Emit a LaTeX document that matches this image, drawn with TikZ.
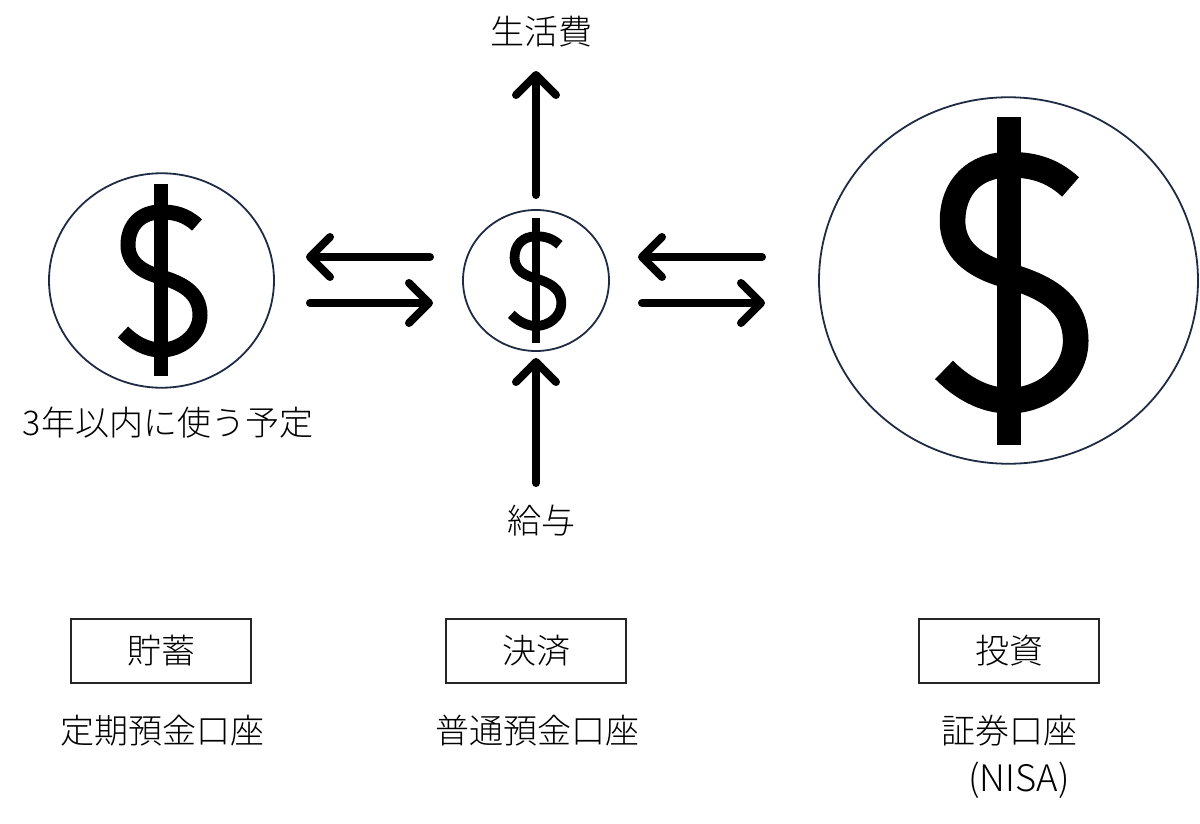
\documentclass[tikz,border=0pt]{standalone}
\usepackage{fontspec}
\setmainfont{Noto Sans CJK JP}[UprightFont=* Light]
\usetikzlibrary{positioning,arrows.meta,shapes.geometric}
\definecolor{ringBlue}{HTML}{1F2A44}
\tikzset{
  coin/.style={ellipse, draw=ringBlue, line width=1.8pt, inner sep=0pt},
  moveOp/.style={line width=8pt, line cap=round, -{Straight Barb[round,length=20pt,width=40pt]}},
  label/.style={font=\fontsize{34}{40}\selectfont, inner sep=0pt},
  kind/.style={rectangle, draw=black!85, line width=1.2pt, minimum width=180pt, minimum height=64pt, inner sep=0pt, font=\fontsize{34}{40}\selectfont}
}
\newcommand{\dollarSign}[3]{%
  \begin{scope}[shift={(#1,#2)}, scale=#3, y=-1pt]
    \fill (-6.75,-96) rectangle (6.75,96);
    \draw[line width=#3*15pt] (36,-55) .. controls (24,-66) and (12,-68) .. (0,-68)
      .. controls (-20,-68) and (-33,-55) .. (-33,-35)
      .. controls (-33,-15) and (-15,-7) .. (0,-3)
      .. controls (20,3) and (39,12) .. (39,35)
      .. controls (39,55) and (20,70) .. (0,70)
      .. controls (-15,70) and (-28,62) .. (-38,52);
  \end{scope}}
\begin{document}
\begin{tikzpicture}[x=1pt, y=-1pt]
      \useasboundingbox (0,0) rectangle (1200,824);
      % coins
      \node [coin, minimum width=225pt, minimum height=214.5pt] (savings) at (161.5,280.5) {};
      \node [coin, minimum width=146pt, minimum height=141pt] (checking) at (536,280.5) {};
      \node [coin, minimum width=379pt, minimum height=366.5pt] (invest) at (1008.5,280.5) {};
      \dollarSign{161}{280}{1}
      \dollarSign{536}{280.5}{.65}
      \dollarSign{1009}{281}{1.71}
      % ends of the arrows
      \coordinate (savOut) at (306,257);
      \coordinate (savIn) at (310,303);
      \coordinate (chkLeftOut) at (430,257);
      \coordinate (chkLeftIn) at (433,303);
      \coordinate (chkRightOut) at (638,257);
      \coordinate (chkRightIn) at (642,303);
      \coordinate (invOut) at (762,257);
      \coordinate (invIn) at (765,303);
      \coordinate (costTip) at (536,71);
      \coordinate (costTail) at (536,195);
      \coordinate (payTip) at (536,358);
      \coordinate (payTail) at (536,483);
      \draw [moveOp] (chkLeftOut) -- (savOut);
      \draw [moveOp] (savIn) -- (chkLeftIn);
      \draw [moveOp] (invOut) -- (chkRightOut);
      \draw [moveOp] (chkRightIn) -- (invIn);
      \draw [moveOp] (costTail) -- (costTip);
      \draw [moveOp] (payTail) -- (payTip);
      % labels
      \node [label] (costText) at (541,32) {生活費};
      \node [label] (payText) at (541,521) {給与};
      \node [label] (soonText) at (168,423) {3年以内に使う予定};
      \node [kind] (savingsBox) at (161,651) {貯蓄};
      \node [kind] (checkingBox) at (536,651) {決済};
      \node [kind] (investBox) at (1009,651) {投資};
      \node [label] (savingsText) at (162,731) {定期預金口座};
      \node [label] (checkingText) at (537,731) {普通預金口座};
      \node [label] (investText) at (1009.5,731) {証券口座};
      \node [label, font=\fontsize{36.5}{40}\selectfont] (nisaText) at (1019,780) {(NISA)};
    \end{tikzpicture}
\end{document}
